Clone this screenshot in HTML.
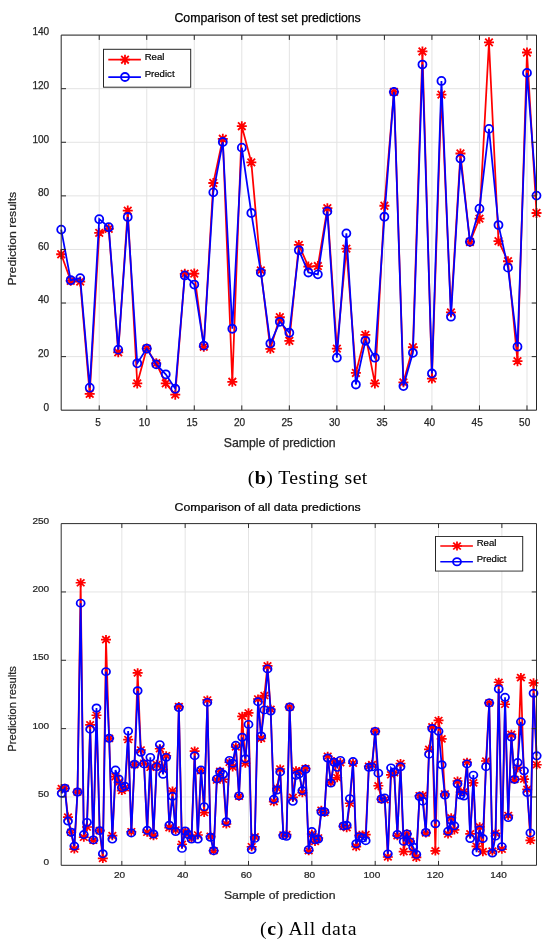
<!DOCTYPE html>
<html lang="en">
<head>
<meta charset="utf-8">
<title>Comparison of predictions</title>
<style>
html,body{margin:0;padding:0;background:#fff;}
body{width:550px;height:945px;overflow:hidden;}
svg{display:block;}
</style>
</head>
<body>
<svg width="550" height="945" viewBox="0 0 550 945">
<rect width="550" height="945" fill="#fff"/>
<g id="chart-test">
<path d="M99.22 35.1V410.2M146.75 35.1V410.2M194.28 35.1V410.2M241.81 35.1V410.2M289.34 35.1V410.2M336.87 35.1V410.2M384.4 35.1V410.2M431.93 35.1V410.2M479.46 35.1V410.2M526.99 35.1V410.2M61.2 410.2H536.5M61.2 356.61H536.5M61.2 303.03H536.5M61.2 249.44H536.5M61.2 195.86H536.5M61.2 142.27H536.5M61.2 88.69H536.5M61.2 35.1H536.5" stroke="#e3e3e3" stroke-width="1" fill="none"/>
<polyline points="61.2,254.27 70.71,280.79 80.21,281.59 89.72,393.86 99.22,232.83 108.73,228.81 118.24,352.33 127.74,210.59 137.25,383.41 146.75,348.58 156.26,363.31 165.77,383.41 175.27,394.66 184.78,273.82 194.28,273.56 203.79,346.7 213.3,183 222.8,138.79 232.31,381.8 241.81,126.2 251.32,162.37 260.83,270.34 270.33,348.84 279.84,317.23 289.34,340.81 298.85,244.89 308.36,266.59 317.86,266.05 327.37,208.18 336.87,348.58 346.38,248.64 355.89,372.96 365.39,334.91 374.9,383.41 384.4,205.77 393.91,91.9 403.42,382.34 412.92,347.24 422.43,51.44 431.93,378.58 441.44,94.58 450.95,312.41 460.45,153.52 469.96,241.94 479.46,218.63 488.97,42.33 498.48,241.14 507.98,261.23 517.49,361.17 526.99,52.52 536.5,213" fill="none" stroke="#ff0000" stroke-width="1.75" stroke-linejoin="miter"/>
<path d="M56.2 254.27H66.2M61.2 249.27V259.27M57.4 250.47L65 258.07M57.4 258.07L65 250.47M65.71 280.79H75.71M70.71 275.79V285.79M66.91 276.99L74.51 284.59M66.91 284.59L74.51 276.99M75.21 281.59H85.21M80.21 276.59V286.59M76.41 277.79L84.01 285.39M76.41 285.39L84.01 277.79M84.72 393.86H94.72M89.72 388.86V398.86M85.92 390.06L93.52 397.66M85.92 397.66L93.52 390.06M94.22 232.83H104.22M99.22 227.83V237.83M95.42 229.03L103.02 236.63M95.42 236.63L103.02 229.03M103.73 228.81H113.73M108.73 223.81V233.81M104.93 225.01L112.53 232.61M104.93 232.61L112.53 225.01M113.24 352.33H123.24M118.24 347.33V357.33M114.44 348.53L122.04 356.13M114.44 356.13L122.04 348.53M122.74 210.59H132.74M127.74 205.59V215.59M123.94 206.79L131.54 214.39M123.94 214.39L131.54 206.79M132.25 383.41H142.25M137.25 378.41V388.41M133.45 379.61L141.05 387.21M133.45 387.21L141.05 379.61M141.75 348.58H151.75M146.75 343.58V353.58M142.95 344.78L150.55 352.38M142.95 352.38L150.55 344.78M151.26 363.31H161.26M156.26 358.31V368.31M152.46 359.51L160.06 367.11M152.46 367.11L160.06 359.51M160.77 383.41H170.77M165.77 378.41V388.41M161.97 379.61L169.57 387.21M161.97 387.21L169.57 379.61M170.27 394.66H180.27M175.27 389.66V399.66M171.47 390.86L179.07 398.46M171.47 398.46L179.07 390.86M179.78 273.82H189.78M184.78 268.82V278.82M180.98 270.02L188.58 277.62M180.98 277.62L188.58 270.02M189.28 273.56H199.28M194.28 268.56V278.56M190.48 269.76L198.08 277.36M190.48 277.36L198.08 269.76M198.79 346.7H208.79M203.79 341.7V351.7M199.99 342.9L207.59 350.5M199.99 350.5L207.59 342.9M208.3 183H218.3M213.3 178V188M209.5 179.2L217.1 186.8M209.5 186.8L217.1 179.2M217.8 138.79H227.8M222.8 133.79V143.79M219 134.99L226.6 142.59M219 142.59L226.6 134.99M227.31 381.8H237.31M232.31 376.8V386.8M228.51 378L236.11 385.6M228.51 385.6L236.11 378M236.81 126.2H246.81M241.81 121.2V131.2M238.01 122.4L245.61 130M238.01 130L245.61 122.4M246.32 162.37H256.32M251.32 157.37V167.37M247.52 158.57L255.12 166.17M247.52 166.17L255.12 158.57M255.83 270.34H265.83M260.83 265.34V275.34M257.03 266.54L264.63 274.14M257.03 274.14L264.63 266.54M265.33 348.84H275.33M270.33 343.84V353.84M266.53 345.04L274.13 352.64M266.53 352.64L274.13 345.04M274.84 317.23H284.84M279.84 312.23V322.23M276.04 313.43L283.64 321.03M276.04 321.03L283.64 313.43M284.34 340.81H294.34M289.34 335.81V345.81M285.54 337.01L293.14 344.61M285.54 344.61L293.14 337.01M293.85 244.89H303.85M298.85 239.89V249.89M295.05 241.09L302.65 248.69M295.05 248.69L302.65 241.09M303.36 266.59H313.36M308.36 261.59V271.59M304.56 262.79L312.16 270.39M304.56 270.39L312.16 262.79M312.86 266.05H322.86M317.86 261.05V271.05M314.06 262.25L321.66 269.85M314.06 269.85L321.66 262.25M322.37 208.18H332.37M327.37 203.18V213.18M323.57 204.38L331.17 211.98M323.57 211.98L331.17 204.38M331.87 348.58H341.87M336.87 343.58V353.58M333.07 344.78L340.67 352.38M333.07 352.38L340.67 344.78M341.38 248.64H351.38M346.38 243.64V253.64M342.58 244.84L350.18 252.44M342.58 252.44L350.18 244.84M350.89 372.96H360.89M355.89 367.96V377.96M352.09 369.16L359.69 376.76M352.09 376.76L359.69 369.16M360.39 334.91H370.39M365.39 329.91V339.91M361.59 331.11L369.19 338.71M361.59 338.71L369.19 331.11M369.9 383.41H379.9M374.9 378.41V388.41M371.1 379.61L378.7 387.21M371.1 387.21L378.7 379.61M379.4 205.77H389.4M384.4 200.77V210.77M380.6 201.97L388.2 209.57M380.6 209.57L388.2 201.97M388.91 91.9H398.91M393.91 86.9V96.9M390.11 88.1L397.71 95.7M390.11 95.7L397.71 88.1M398.42 382.34H408.42M403.42 377.34V387.34M399.62 378.54L407.22 386.14M399.62 386.14L407.22 378.54M407.92 347.24H417.92M412.92 342.24V352.24M409.12 343.44L416.72 351.04M409.12 351.04L416.72 343.44M417.43 51.44H427.43M422.43 46.44V56.44M418.63 47.64L426.23 55.24M418.63 55.24L426.23 47.64M426.93 378.58H436.93M431.93 373.58V383.58M428.13 374.78L435.73 382.38M428.13 382.38L435.73 374.78M436.44 94.58H446.44M441.44 89.58V99.58M437.64 90.78L445.24 98.38M437.64 98.38L445.24 90.78M445.95 312.41H455.95M450.95 307.41V317.41M447.15 308.61L454.75 316.21M447.15 316.21L454.75 308.61M455.45 153.52H465.45M460.45 148.52V158.52M456.65 149.72L464.25 157.32M456.65 157.32L464.25 149.72M464.96 241.94H474.96M469.96 236.94V246.94M466.16 238.14L473.76 245.74M466.16 245.74L473.76 238.14M474.46 218.63H484.46M479.46 213.63V223.63M475.66 214.83L483.26 222.43M475.66 222.43L483.26 214.83M483.97 42.33H493.97M488.97 37.33V47.33M485.17 38.53L492.77 46.13M485.17 46.13L492.77 38.53M493.48 241.14H503.48M498.48 236.14V246.14M494.68 237.34L502.28 244.94M494.68 244.94L502.28 237.34M502.98 261.23H512.98M507.98 256.23V266.23M504.18 257.43L511.78 265.03M504.18 265.03L511.78 257.43M512.49 361.17H522.49M517.49 356.17V366.17M513.69 357.37L521.29 364.97M513.69 364.97L521.29 357.37M521.99 52.52H531.99M526.99 47.52V57.52M523.19 48.72L530.79 56.32M523.19 56.32L530.79 48.72M531.5 213H541.5M536.5 208V218M532.7 209.2L540.3 216.8M532.7 216.8L540.3 209.2" stroke="#ff0000" stroke-width="1.8" fill="none"/>
<polyline points="61.2,229.62 70.71,280.25 80.21,278.11 89.72,387.69 99.22,219.17 108.73,227.2 118.24,349.65 127.74,217.02 137.25,363.31 146.75,348.58 156.26,364.38 165.77,374.3 175.27,388.77 184.78,275.43 194.28,284.54 203.79,345.63 213.3,192.37 222.8,142 232.31,328.75 241.81,147.63 251.32,213 260.83,272.48 270.33,343.49 279.84,321.78 289.34,332.77 298.85,250.25 308.36,272.48 317.86,274.36 327.37,211.4 336.87,357.69 346.38,233.37 355.89,384.48 365.39,340.81 374.9,357.69 384.4,216.76 393.91,91.9 403.42,386.09 412.92,352.86 422.43,64.57 431.93,373.49 441.44,80.92 450.95,316.69 460.45,158.62 469.96,241.67 479.46,208.72 488.97,128.88 498.48,225.06 507.98,267.66 517.49,346.7 526.99,72.88 536.5,195.59" fill="none" stroke="#0000ff" stroke-width="1.75" stroke-linejoin="miter"/>
<g fill="none" stroke="#0000ff" stroke-width="1.8"><circle cx="61.2" cy="229.62" r="4.0"/><circle cx="70.71" cy="280.25" r="4.0"/><circle cx="80.21" cy="278.11" r="4.0"/><circle cx="89.72" cy="387.69" r="4.0"/><circle cx="99.22" cy="219.17" r="4.0"/><circle cx="108.73" cy="227.2" r="4.0"/><circle cx="118.24" cy="349.65" r="4.0"/><circle cx="127.74" cy="217.02" r="4.0"/><circle cx="137.25" cy="363.31" r="4.0"/><circle cx="146.75" cy="348.58" r="4.0"/><circle cx="156.26" cy="364.38" r="4.0"/><circle cx="165.77" cy="374.3" r="4.0"/><circle cx="175.27" cy="388.77" r="4.0"/><circle cx="184.78" cy="275.43" r="4.0"/><circle cx="194.28" cy="284.54" r="4.0"/><circle cx="203.79" cy="345.63" r="4.0"/><circle cx="213.3" cy="192.37" r="4.0"/><circle cx="222.8" cy="142" r="4.0"/><circle cx="232.31" cy="328.75" r="4.0"/><circle cx="241.81" cy="147.63" r="4.0"/><circle cx="251.32" cy="213" r="4.0"/><circle cx="260.83" cy="272.48" r="4.0"/><circle cx="270.33" cy="343.49" r="4.0"/><circle cx="279.84" cy="321.78" r="4.0"/><circle cx="289.34" cy="332.77" r="4.0"/><circle cx="298.85" cy="250.25" r="4.0"/><circle cx="308.36" cy="272.48" r="4.0"/><circle cx="317.86" cy="274.36" r="4.0"/><circle cx="327.37" cy="211.4" r="4.0"/><circle cx="336.87" cy="357.69" r="4.0"/><circle cx="346.38" cy="233.37" r="4.0"/><circle cx="355.89" cy="384.48" r="4.0"/><circle cx="365.39" cy="340.81" r="4.0"/><circle cx="374.9" cy="357.69" r="4.0"/><circle cx="384.4" cy="216.76" r="4.0"/><circle cx="393.91" cy="91.9" r="4.0"/><circle cx="403.42" cy="386.09" r="4.0"/><circle cx="412.92" cy="352.86" r="4.0"/><circle cx="422.43" cy="64.57" r="4.0"/><circle cx="431.93" cy="373.49" r="4.0"/><circle cx="441.44" cy="80.92" r="4.0"/><circle cx="450.95" cy="316.69" r="4.0"/><circle cx="460.45" cy="158.62" r="4.0"/><circle cx="469.96" cy="241.67" r="4.0"/><circle cx="479.46" cy="208.72" r="4.0"/><circle cx="488.97" cy="128.88" r="4.0"/><circle cx="498.48" cy="225.06" r="4.0"/><circle cx="507.98" cy="267.66" r="4.0"/><circle cx="517.49" cy="346.7" r="4.0"/><circle cx="526.99" cy="72.88" r="4.0"/><circle cx="536.5" cy="195.59" r="4.0"/></g>
<path d="M61.2 35.1H536.5V410.2H61.2ZM99.22 410.2v-4.8M99.22 35.1v4.8M146.75 410.2v-4.8M146.75 35.1v4.8M194.28 410.2v-4.8M194.28 35.1v4.8M241.81 410.2v-4.8M241.81 35.1v4.8M289.34 410.2v-4.8M289.34 35.1v4.8M336.87 410.2v-4.8M336.87 35.1v4.8M384.4 410.2v-4.8M384.4 35.1v4.8M431.93 410.2v-4.8M431.93 35.1v4.8M479.46 410.2v-4.8M479.46 35.1v4.8M526.99 410.2v-4.8M526.99 35.1v4.8M61.2 356.61h4.8M536.5 356.61h-4.8M61.2 303.03h4.8M536.5 303.03h-4.8M61.2 249.44h4.8M536.5 249.44h-4.8M61.2 195.86h4.8M536.5 195.86h-4.8M61.2 142.27h4.8M536.5 142.27h-4.8M61.2 88.69h4.8M536.5 88.69h-4.8" stroke="#262626" stroke-width="1" fill="none"/>
<g font-family="'Liberation Sans', Arial, Helvetica, sans-serif" font-size="10.05" fill="#262626" stroke="#262626" stroke-width="0.25">
<text x="97.97" y="425.6" text-anchor="middle">5</text>
<text x="144.45" y="425.6" text-anchor="middle">10</text>
<text x="191.98" y="425.6" text-anchor="middle">15</text>
<text x="239.51" y="425.6" text-anchor="middle">20</text>
<text x="287.04" y="425.6" text-anchor="middle">25</text>
<text x="334.57" y="425.6" text-anchor="middle">30</text>
<text x="382.1" y="425.6" text-anchor="middle">35</text>
<text x="429.63" y="425.6" text-anchor="middle">40</text>
<text x="477.16" y="425.6" text-anchor="middle">45</text>
<text x="524.69" y="425.6" text-anchor="middle">50</text>
<text x="49.2" y="410.5" text-anchor="end">0</text>
<text x="49.2" y="356.91" text-anchor="end">20</text>
<text x="49.2" y="303.33" text-anchor="end">40</text>
<text x="49.2" y="249.74" text-anchor="end">60</text>
<text x="49.2" y="196.16" text-anchor="end">80</text>
<text x="49.2" y="142.57" text-anchor="end">100</text>
<text x="49.2" y="88.99" text-anchor="end">120</text>
<text x="49.2" y="35.4" text-anchor="end">140</text>
</g>
<text font-family="'Liberation Sans', Arial, Helvetica, sans-serif" font-size="12.33" fill="#000" stroke="#000" stroke-width="0.25" x="267.6" y="21.6" text-anchor="middle">Comparison of test set predictions</text>
<text font-family="'Liberation Sans', Arial, Helvetica, sans-serif" font-size="12.25" fill="#262626" stroke="#262626" stroke-width="0.25" x="279.7" y="447.4" text-anchor="middle">Sample of prediction</text>
<text font-family="'Liberation Sans', Arial, Helvetica, sans-serif" font-size="12.25" fill="#262626" stroke="#262626" stroke-width="0.25" transform="translate(16.0,238.7) rotate(-90) scale(1,0.89)" text-anchor="middle">Prediction results</text>
<rect x="103.5" y="49.3" width="87.2" height="37.9" fill="#fff" stroke="#262626" stroke-width="1"/>
<path d="M108.3 59.7H140.9" stroke="#ff0000" stroke-width="1.75"/>
<path d="M120 59.7H130M125 54.7V64.7M121.2 55.9L128.8 63.5M121.2 63.5L128.8 55.9" stroke="#ff0000" stroke-width="1.8" fill="none"/>
<path d="M108.3 77H140.9" stroke="#0000ff" stroke-width="1.75"/>
<circle cx="125" cy="77" r="4.0" fill="none" stroke="#0000ff" stroke-width="1.8"/>
<text font-family="'Liberation Sans', Arial, Helvetica, sans-serif" font-size="9.6" fill="#000" stroke="#000" stroke-width="0.2" x="144.7" y="59.8">Real</text>
<text font-family="'Liberation Sans', Arial, Helvetica, sans-serif" font-size="9.6" fill="#000" stroke="#000" stroke-width="0.2" x="144.7" y="77">Predict</text>
</g>
<text font-family="'Liberation Serif', 'Times New Roman', serif" font-size="19.8" fill="#000" x="247.8" y="484.1" letter-spacing="0.42">(<tspan font-weight="bold">b</tspan>) Testing set</text>
<g id="chart-all" transform="translate(0,491.63) scale(1,0.9110)">
<path d="M121.83 35.1V410.2M185.17 35.1V410.2M248.51 35.1V410.2M311.85 35.1V410.2M375.19 35.1V410.2M438.53 35.1V410.2M501.87 35.1V410.2M61.2 410.2H536.5M61.2 335.18H536.5M61.2 260.16H536.5M61.2 185.14H536.5M61.2 110.12H536.5M61.2 35.1H536.5" stroke="#e3e3e3" stroke-width="1" fill="none"/>
<polyline points="61.66,326.03 64.82,325.58 67.99,357.24 71.16,373.89 74.33,392.35 77.49,329.78 80.66,100.07 83.83,379.44 86.99,368.19 90.16,255.96 93.33,382.74 96.49,245.46 99.66,372.09 102.83,402.55 106,162.48 109.16,270.81 112.33,377.64 115.5,312.82 118.66,319.13 121.83,328.13 125,324.98 128.16,272.16 131.33,373.29 134.5,299.62 137.66,198.94 140.83,283.57 144,298.12 147.17,373.89 150.33,302.62 153.5,377.64 156.67,299.62 159.83,282.22 163,305.17 166.17,289.87 169.34,368.79 172.5,328.58 175.67,371.34 178.84,236 182,387.09 185.17,373.14 188.34,375.84 191.5,380.64 194.67,284.77 197.84,376.89 201,306.37 204.17,352.28 207.34,228.65 210.51,378.39 213.67,394.15 216.84,316.58 220.01,306.97 223.17,315.67 226.34,364.89 229.51,297.07 232.68,302.17 235.84,280.27 239.01,334.43 242.18,246.66 245.34,298.12 248.51,242.91 251.68,389.79 254.84,378.99 258.01,227.6 261.18,270.81 264.34,223.85 267.51,191.29 270.68,239 273.85,340.28 277.01,325.58 280.18,304.42 283.35,376.89 286.51,376.44 289.68,236.45 292.85,335.63 296.01,306.37 299.18,307.27 302.35,330.53 305.52,303.97 308.68,394.15 311.85,375.84 315.02,383.94 318.18,380.19 321.35,349.73 324.52,352.28 327.69,290.47 330.85,319.13 334.02,296.32 337.19,314.02 340.35,297.52 343.52,367.44 346.69,368.79 349.85,342.08 353.02,298.12 356.19,389.64 359.36,377.19 362.52,376.89 365.69,376.44 368.86,301.42 372.02,299.62 375.19,263.16 378.36,322.88 381.52,337.73 384.69,338.18 387.86,401.05 391.02,310.87 394.19,308.62 397.36,377.79 400.53,298.42 403.69,395.2 406.86,375.69 410.03,383.94 413.19,395.2 416.36,401.5 419.53,333.83 422.69,333.68 425.86,374.64 429.03,282.97 432.2,258.21 435.36,394.3 438.53,251.16 441.7,271.41 444.86,331.88 448.03,375.84 451.2,358.14 454.37,371.34 457.53,317.63 460.7,329.78 463.87,329.48 467.03,297.07 470.2,375.69 473.37,319.73 476.53,389.34 479.7,368.04 482.87,395.2 486.03,295.72 489.2,231.95 492.37,394.6 495.54,374.94 498.7,209.3 501.87,392.5 505.04,233.45 508.2,355.44 511.37,266.46 514.54,315.97 517.7,302.92 520.87,204.2 524.04,315.52 527.21,326.78 530.37,382.74 533.54,209.9 536.71,299.77" fill="none" stroke="#ff0000" stroke-width="1.75" stroke-linejoin="miter"/>
<path d="M56.66 326.03H66.66M61.66 321.03V331.03M57.86 322.23L65.46 329.83M57.86 329.83L65.46 322.23M59.82 325.58H69.82M64.82 320.58V330.58M61.02 321.78L68.62 329.38M61.02 329.38L68.62 321.78M62.99 357.24H72.99M67.99 352.24V362.24M64.19 353.44L71.79 361.04M64.19 361.04L71.79 353.44M66.16 373.89H76.16M71.16 368.89V378.89M67.36 370.09L74.96 377.69M67.36 377.69L74.96 370.09M69.33 392.35H79.33M74.33 387.35V397.35M70.53 388.55L78.12 396.15M70.53 396.15L78.12 388.55M72.49 329.78H82.49M77.49 324.78V334.78M73.69 325.98L81.29 333.58M73.69 333.58L81.29 325.98M75.66 100.07H85.66M80.66 95.07V105.07M76.86 96.27L84.46 103.87M76.86 103.87L84.46 96.27M78.83 379.44H88.83M83.83 374.44V384.44M80.03 375.64L87.63 383.24M80.03 383.24L87.63 375.64M81.99 368.19H91.99M86.99 363.19V373.19M83.19 364.39L90.79 371.99M83.19 371.99L90.79 364.39M85.16 255.96H95.16M90.16 250.96V260.96M86.36 252.16L93.96 259.76M86.36 259.76L93.96 252.16M88.33 382.74H98.33M93.33 377.74V387.74M89.53 378.94L97.13 386.54M89.53 386.54L97.13 378.94M91.49 245.46H101.49M96.49 240.46V250.46M92.69 241.66L100.29 249.26M92.69 249.26L100.29 241.66M94.66 372.09H104.66M99.66 367.09V377.09M95.86 368.29L103.46 375.89M95.86 375.89L103.46 368.29M97.83 402.55H107.83M102.83 397.55V407.55M99.03 398.75L106.63 406.35M99.03 406.35L106.63 398.75M101 162.48H111M106 157.48V167.48M102.2 158.68L109.8 166.28M102.2 166.28L109.8 158.68M104.16 270.81H114.16M109.16 265.81V275.81M105.36 267.01L112.96 274.61M105.36 274.61L112.96 267.01M107.33 377.64H117.33M112.33 372.64V382.64M108.53 373.84L116.13 381.44M108.53 381.44L116.13 373.84M110.5 312.82H120.5M115.5 307.82V317.82M111.7 309.02L119.3 316.62M111.7 316.62L119.3 309.02M113.66 319.13H123.66M118.66 314.13V324.13M114.86 315.33L122.46 322.93M114.86 322.93L122.46 315.33M116.83 328.13H126.83M121.83 323.13V333.13M118.03 324.33L125.63 331.93M118.03 331.93L125.63 324.33M120 324.98H130M125 319.98V329.98M121.2 321.18L128.8 328.78M121.2 328.78L128.8 321.18M123.16 272.16H133.16M128.16 267.16V277.16M124.36 268.36L131.96 275.96M124.36 275.96L131.96 268.36M126.33 373.29H136.33M131.33 368.29V378.29M127.53 369.49L135.13 377.09M127.53 377.09L135.13 369.49M129.5 299.62H139.5M134.5 294.62V304.62M130.7 295.82L138.3 303.42M130.7 303.42L138.3 295.82M132.66 198.94H142.66M137.66 193.94V203.94M133.86 195.14L141.47 202.74M133.86 202.74L141.47 195.14M135.83 283.57H145.83M140.83 278.57V288.57M137.03 279.77L144.63 287.37M137.03 287.37L144.63 279.77M139 298.12H149M144 293.12V303.12M140.2 294.32L147.8 301.92M140.2 301.92L147.8 294.32M142.17 373.89H152.17M147.17 368.89V378.89M143.37 370.09L150.97 377.69M143.37 377.69L150.97 370.09M145.33 302.62H155.33M150.33 297.62V307.62M146.53 298.82L154.13 306.42M146.53 306.42L154.13 298.82M148.5 377.64H158.5M153.5 372.64V382.64M149.7 373.84L157.3 381.44M149.7 381.44L157.3 373.84M151.67 299.62H161.67M156.67 294.62V304.62M152.87 295.82L160.47 303.42M152.87 303.42L160.47 295.82M154.83 282.22H164.83M159.83 277.22V287.22M156.03 278.42L163.63 286.02M156.03 286.02L163.63 278.42M158 305.17H168M163 300.17V310.17M159.2 301.37L166.8 308.97M159.2 308.97L166.8 301.37M161.17 289.87H171.17M166.17 284.87V294.87M162.37 286.07L169.97 293.67M162.37 293.67L169.97 286.07M164.34 368.79H174.34M169.34 363.79V373.79M165.53 364.99L173.14 372.59M165.53 372.59L173.14 364.99M167.5 328.58H177.5M172.5 323.58V333.58M168.7 324.78L176.3 332.38M168.7 332.38L176.3 324.78M170.67 371.34H180.67M175.67 366.34V376.34M171.87 367.54L179.47 375.14M171.87 375.14L179.47 367.54M173.84 236H183.84M178.84 231V241M175.04 232.2L182.64 239.8M175.04 239.8L182.64 232.2M177 387.09H187M182 382.09V392.09M178.2 383.29L185.8 390.89M178.2 390.89L185.8 383.29M180.17 373.14H190.17M185.17 368.14V378.14M181.37 369.34L188.97 376.94M181.37 376.94L188.97 369.34M183.34 375.84H193.34M188.34 370.84V380.84M184.54 372.04L192.14 379.64M184.54 379.64L192.14 372.04M186.5 380.64H196.5M191.5 375.64V385.64M187.7 376.84L195.3 384.44M187.7 384.44L195.3 376.84M189.67 284.77H199.67M194.67 279.77V289.77M190.87 280.97L198.47 288.57M190.87 288.57L198.47 280.97M192.84 376.89H202.84M197.84 371.89V381.89M194.04 373.09L201.64 380.69M194.04 380.69L201.64 373.09M196 306.37H206M201 301.37V311.37M197.2 302.57L204.81 310.17M197.2 310.17L204.81 302.57M199.17 352.28H209.17M204.17 347.28V357.28M200.37 348.48L207.97 356.08M200.37 356.08L207.97 348.48M202.34 228.65H212.34M207.34 223.65V233.65M203.54 224.85L211.14 232.45M203.54 232.45L211.14 224.85M205.51 378.39H215.51M210.51 373.39V383.39M206.71 374.59L214.31 382.19M206.71 382.19L214.31 374.59M208.67 394.15H218.67M213.67 389.15V399.15M209.87 390.35L217.47 397.95M209.87 397.95L217.47 390.35M211.84 316.58H221.84M216.84 311.58V321.58M213.04 312.78L220.64 320.38M213.04 320.38L220.64 312.78M215.01 306.97H225.01M220.01 301.97V311.97M216.21 303.17L223.81 310.77M216.21 310.77L223.81 303.17M218.17 315.67H228.17M223.17 310.67V320.67M219.37 311.87L226.97 319.47M219.37 319.47L226.97 311.87M221.34 364.89H231.34M226.34 359.89V369.89M222.54 361.09L230.14 368.69M222.54 368.69L230.14 361.09M224.51 297.07H234.51M229.51 292.07V302.07M225.71 293.27L233.31 300.87M225.71 300.87L233.31 293.27M227.68 302.17H237.68M232.68 297.17V307.17M228.88 298.37L236.48 305.97M228.88 305.97L236.48 298.37M230.84 280.27H240.84M235.84 275.27V285.27M232.04 276.47L239.64 284.07M232.04 284.07L239.64 276.47M234.01 334.43H244.01M239.01 329.43V339.43M235.21 330.63L242.81 338.23M235.21 338.23L242.81 330.63M237.18 246.66H247.18M242.18 241.66V251.66M238.38 242.86L245.98 250.46M238.38 250.46L245.98 242.86M240.34 298.12H250.34M245.34 293.12V303.12M241.54 294.32L249.14 301.92M241.54 301.92L249.14 294.32M243.51 242.91H253.51M248.51 237.91V247.91M244.71 239.11L252.31 246.71M244.71 246.71L252.31 239.11M246.68 389.79H256.68M251.68 384.79V394.79M247.88 385.99L255.48 393.59M247.88 393.59L255.48 385.99M249.84 378.99H259.84M254.84 373.99V383.99M251.04 375.19L258.64 382.79M251.04 382.79L258.64 375.19M253.01 227.6H263.01M258.01 222.6V232.6M254.21 223.8L261.81 231.4M254.21 231.4L261.81 223.8M256.18 270.81H266.18M261.18 265.81V275.81M257.38 267.01L264.98 274.61M257.38 274.61L264.98 267.01M259.34 223.85H269.34M264.34 218.85V228.85M260.54 220.05L268.14 227.65M260.54 227.65L268.14 220.05M262.51 191.29H272.51M267.51 186.29V196.29M263.71 187.49L271.31 195.09M263.71 195.09L271.31 187.49M265.68 239H275.68M270.68 234V244M266.88 235.2L274.48 242.8M266.88 242.8L274.48 235.2M268.85 340.28H278.85M273.85 335.28V345.28M270.05 336.48L277.65 344.08M270.05 344.08L277.65 336.48M272.01 325.58H282.01M277.01 320.58V330.58M273.21 321.78L280.81 329.38M273.21 329.38L280.81 321.78M275.18 304.42H285.18M280.18 299.42V309.42M276.38 300.62L283.98 308.22M276.38 308.22L283.98 300.62M278.35 376.89H288.35M283.35 371.89V381.89M279.55 373.09L287.15 380.69M279.55 380.69L287.15 373.09M281.51 376.44H291.51M286.51 371.44V381.44M282.71 372.64L290.31 380.24M282.71 380.24L290.31 372.64M284.68 236.45H294.68M289.68 231.45V241.45M285.88 232.65L293.48 240.25M285.88 240.25L293.48 232.65M287.85 335.63H297.85M292.85 330.63V340.63M289.05 331.83L296.65 339.43M289.05 339.43L296.65 331.83M291.01 306.37H301.01M296.01 301.37V311.37M292.21 302.57L299.81 310.17M292.21 310.17L299.81 302.57M294.18 307.27H304.18M299.18 302.27V312.27M295.38 303.47L302.98 311.07M295.38 311.07L302.98 303.47M297.35 330.53H307.35M302.35 325.53V335.53M298.55 326.73L306.15 334.33M298.55 334.33L306.15 326.73M300.52 303.97H310.52M305.52 298.97V308.97M301.72 300.17L309.32 307.77M301.72 307.77L309.32 300.17M303.68 394.15H313.68M308.68 389.15V399.15M304.88 390.35L312.48 397.95M304.88 397.95L312.48 390.35M306.85 375.84H316.85M311.85 370.84V380.84M308.05 372.04L315.65 379.64M308.05 379.64L315.65 372.04M310.02 383.94H320.02M315.02 378.94V388.94M311.22 380.14L318.82 387.74M311.22 387.74L318.82 380.14M313.18 380.19H323.18M318.18 375.19V385.19M314.38 376.39L321.98 383.99M314.38 383.99L321.98 376.39M316.35 349.73H326.35M321.35 344.73V354.73M317.55 345.93L325.15 353.53M317.55 353.53L325.15 345.93M319.52 352.28H329.52M324.52 347.28V357.28M320.72 348.48L328.32 356.08M320.72 356.08L328.32 348.48M322.69 290.47H332.69M327.69 285.47V295.47M323.88 286.67L331.49 294.27M323.88 294.27L331.49 286.67M325.85 319.13H335.85M330.85 314.13V324.13M327.05 315.33L334.65 322.93M327.05 322.93L334.65 315.33M329.02 296.32H339.02M334.02 291.32V301.32M330.22 292.52L337.82 300.12M330.22 300.12L337.82 292.52M332.19 314.02H342.19M337.19 309.02V319.02M333.39 310.22L340.99 317.82M333.39 317.82L340.99 310.22M335.35 297.52H345.35M340.35 292.52V302.52M336.55 293.72L344.15 301.32M336.55 301.32L344.15 293.72M338.52 367.44H348.52M343.52 362.44V372.44M339.72 363.64L347.32 371.24M339.72 371.24L347.32 363.64M341.69 368.79H351.69M346.69 363.79V373.79M342.89 364.99L350.49 372.59M342.89 372.59L350.49 364.99M344.85 342.08H354.85M349.85 337.08V347.08M346.05 338.28L353.65 345.88M346.05 345.88L353.65 338.28M348.02 298.12H358.02M353.02 293.12V303.12M349.22 294.32L356.82 301.92M349.22 301.92L356.82 294.32M351.19 389.64H361.19M356.19 384.64V394.64M352.39 385.84L359.99 393.44M352.39 393.44L359.99 385.84M354.36 377.19H364.36M359.36 372.19V382.19M355.56 373.39L363.16 380.99M355.56 380.99L363.16 373.39M357.52 376.89H367.52M362.52 371.89V381.89M358.72 373.09L366.32 380.69M358.72 380.69L366.32 373.09M360.69 376.44H370.69M365.69 371.44V381.44M361.89 372.64L369.49 380.24M361.89 380.24L369.49 372.64M363.86 301.42H373.86M368.86 296.42V306.42M365.06 297.62L372.66 305.22M365.06 305.22L372.66 297.62M367.02 299.62H377.02M372.02 294.62V304.62M368.22 295.82L375.82 303.42M368.22 303.42L375.82 295.82M370.19 263.16H380.19M375.19 258.16V268.16M371.39 259.36L378.99 266.96M371.39 266.96L378.99 259.36M373.36 322.88H383.36M378.36 317.88V327.88M374.56 319.08L382.16 326.68M374.56 326.68L382.16 319.08M376.52 337.73H386.52M381.52 332.73V342.73M377.72 333.93L385.32 341.53M377.72 341.53L385.32 333.93M379.69 338.18H389.69M384.69 333.18V343.18M380.89 334.38L388.49 341.98M380.89 341.98L388.49 334.38M382.86 401.05H392.86M387.86 396.05V406.05M384.06 397.25L391.66 404.85M384.06 404.85L391.66 397.25M386.02 310.87H396.02M391.02 305.87V315.87M387.22 307.07L394.82 314.67M387.22 314.67L394.82 307.07M389.19 308.62H399.19M394.19 303.62V313.62M390.39 304.82L397.99 312.42M390.39 312.42L397.99 304.82M392.36 377.79H402.36M397.36 372.79V382.79M393.56 373.99L401.16 381.59M393.56 381.59L401.16 373.99M395.53 298.42H405.53M400.53 293.42V303.42M396.73 294.62L404.33 302.22M396.73 302.22L404.33 294.62M398.69 395.2H408.69M403.69 390.2V400.2M399.89 391.4L407.49 399M399.89 399L407.49 391.4M401.86 375.69H411.86M406.86 370.69V380.69M403.06 371.89L410.66 379.49M403.06 379.49L410.66 371.89M405.03 383.94H415.03M410.03 378.94V388.94M406.23 380.14L413.83 387.74M406.23 387.74L413.83 380.14M408.19 395.2H418.19M413.19 390.2V400.2M409.39 391.4L416.99 399M409.39 399L416.99 391.4M411.36 401.5H421.36M416.36 396.5V406.5M412.56 397.7L420.16 405.3M412.56 405.3L420.16 397.7M414.53 333.83H424.53M419.53 328.83V338.83M415.73 330.03L423.33 337.63M415.73 337.63L423.33 330.03M417.69 333.68H427.69M422.69 328.68V338.68M418.89 329.88L426.5 337.48M418.89 337.48L426.5 329.88M420.86 374.64H430.86M425.86 369.64V379.64M422.06 370.84L429.66 378.44M422.06 378.44L429.66 370.84M424.03 282.97H434.03M429.03 277.97V287.97M425.23 279.17L432.83 286.77M425.23 286.77L432.83 279.17M427.2 258.21H437.2M432.2 253.21V263.21M428.4 254.41L436 262.01M428.4 262.01L436 254.41M430.36 394.3H440.36M435.36 389.3V399.3M431.56 390.5L439.16 398.1M431.56 398.1L439.16 390.5M433.53 251.16H443.53M438.53 246.16V256.16M434.73 247.36L442.33 254.96M434.73 254.96L442.33 247.36M436.7 271.41H446.7M441.7 266.41V276.41M437.9 267.61L445.5 275.21M437.9 275.21L445.5 267.61M439.86 331.88H449.86M444.86 326.88V336.88M441.06 328.08L448.66 335.68M441.06 335.68L448.66 328.08M443.03 375.84H453.03M448.03 370.84V380.84M444.23 372.04L451.83 379.64M444.23 379.64L451.83 372.04M446.2 358.14H456.2M451.2 353.14V363.14M447.4 354.34L455 361.94M447.4 361.94L455 354.34M449.37 371.34H459.37M454.37 366.34V376.34M450.56 367.54L458.17 375.14M450.56 375.14L458.17 367.54M452.53 317.63H462.53M457.53 312.63V322.63M453.73 313.83L461.33 321.43M453.73 321.43L461.33 313.83M455.7 329.78H465.7M460.7 324.78V334.78M456.9 325.98L464.5 333.58M456.9 333.58L464.5 325.98M458.87 329.48H468.87M463.87 324.48V334.48M460.07 325.68L467.67 333.28M460.07 333.28L467.67 325.68M462.03 297.07H472.03M467.03 292.07V302.07M463.23 293.27L470.83 300.87M463.23 300.87L470.83 293.27M465.2 375.69H475.2M470.2 370.69V380.69M466.4 371.89L474 379.49M466.4 379.49L474 371.89M468.37 319.73H478.37M473.37 314.73V324.73M469.57 315.93L477.17 323.53M469.57 323.53L477.17 315.93M471.53 389.34H481.53M476.53 384.34V394.34M472.73 385.54L480.33 393.14M472.73 393.14L480.33 385.54M474.7 368.04H484.7M479.7 363.04V373.04M475.9 364.24L483.5 371.84M475.9 371.84L483.5 364.24M477.87 395.2H487.87M482.87 390.2V400.2M479.07 391.4L486.67 399M479.07 399L486.67 391.4M481.03 295.72H491.03M486.03 290.72V300.72M482.23 291.92L489.83 299.52M482.23 299.52L489.83 291.92M484.2 231.95H494.2M489.2 226.95V236.95M485.4 228.15L493 235.75M485.4 235.75L493 228.15M487.37 394.6H497.37M492.37 389.6V399.6M488.57 390.8L496.17 398.4M488.57 398.4L496.17 390.8M490.54 374.94H500.54M495.54 369.94V379.94M491.74 371.14L499.34 378.74M491.74 378.74L499.34 371.14M493.7 209.3H503.7M498.7 204.3V214.3M494.9 205.5L502.5 213.1M494.9 213.1L502.5 205.5M496.87 392.5H506.87M501.87 387.5V397.5M498.07 388.7L505.67 396.3M498.07 396.3L505.67 388.7M500.04 233.45H510.04M505.04 228.45V238.45M501.24 229.65L508.84 237.25M501.24 237.25L508.84 229.65M503.2 355.44H513.2M508.2 350.44V360.44M504.4 351.64L512 359.24M504.4 359.24L512 351.64M506.37 266.46H516.37M511.37 261.46V271.46M507.57 262.66L515.17 270.26M507.57 270.26L515.17 262.66M509.54 315.97H519.54M514.54 310.97V320.97M510.74 312.17L518.34 319.77M510.74 319.77L518.34 312.17M512.7 302.92H522.7M517.7 297.92V307.92M513.9 299.12L521.5 306.72M513.9 306.72L521.5 299.12M515.87 204.2H525.87M520.87 199.2V209.2M517.07 200.4L524.67 208M517.07 208L524.67 200.4M519.04 315.52H529.04M524.04 310.52V320.52M520.24 311.72L527.84 319.32M520.24 319.32L527.84 311.72M522.21 326.78H532.21M527.21 321.78V331.78M523.41 322.98L531.01 330.58M523.41 330.58L531.01 322.98M525.37 382.74H535.37M530.37 377.74V387.74M526.57 378.94L534.17 386.54M526.57 386.54L534.17 378.94M528.54 209.9H538.54M533.54 204.9V214.9M529.74 206.1L537.34 213.7M529.74 213.7L537.34 206.1M531.71 299.77H541.71M536.71 294.77V304.77M532.91 295.97L540.51 303.57M532.91 303.57L540.51 295.97" stroke="#ff0000" stroke-width="1.8" fill="none"/>
<polyline points="61.66,331.13 64.82,325.58 67.99,361.59 71.16,373.89 74.33,389.04 77.49,329.78 80.66,122.42 83.83,376.44 86.99,363.09 90.16,260.76 93.33,382.29 96.49,237.5 99.66,372.09 102.83,397.45 106,197.59 109.16,270.81 112.33,381.39 115.5,305.62 118.66,315.37 121.83,324.98 125,323.48 128.16,262.86 131.33,374.64 134.5,299.32 137.66,218.6 140.83,286.12 144,298.87 147.17,371.79 150.33,291.67 153.5,375.84 156.67,301.87 159.83,277.71 163,310.27 166.17,291.67 169.34,366.24 172.5,334.43 175.67,373.14 178.84,237.05 182,391.6 185.17,372.54 188.34,376.44 191.5,381.39 194.67,289.87 197.84,381.39 201,305.62 204.17,345.83 207.34,231.35 210.51,379.44 213.67,394.15 216.84,315.37 220.01,307.72 223.17,310.27 226.34,362.34 229.51,294.97 232.68,298.12 235.84,278.46 239.01,333.98 242.18,269.61 245.34,293.17 248.51,255.51 251.68,392.95 254.84,380.64 258.01,230.6 261.18,268.26 264.34,239.6 267.51,194.59 270.68,240.8 273.85,337.73 277.01,327.53 280.18,307.72 283.35,377.64 286.51,378.39 289.68,236.45 292.85,339.98 296.01,311.47 299.18,309.82 302.35,328.13 305.52,304.72 308.68,392.95 311.85,373.14 315.02,382.29 318.18,381.39 321.35,351.38 324.52,351.38 327.69,292.42 330.85,319.88 334.02,297.07 337.19,302.62 340.35,294.97 343.52,366.99 346.69,366.24 349.85,336.98 353.02,296.32 356.19,386.49 359.36,378.69 362.52,380.19 365.69,383.19 368.86,302.62 372.02,302.17 375.19,263.16 378.36,309.07 381.52,337.43 384.69,336.23 387.86,397.6 391.02,303.22 394.19,307.72 397.36,376.29 400.53,302.02 403.69,383.94 406.86,375.69 410.03,384.54 413.19,390.09 416.36,398.2 419.53,334.73 422.69,339.83 425.86,374.04 429.03,288.22 432.2,260.01 435.36,364.59 438.53,263.16 441.7,299.77 444.86,333.08 448.03,372.84 451.2,360.69 454.37,366.84 457.53,320.63 460.7,333.08 463.87,334.13 467.03,298.87 470.2,380.79 473.37,311.17 476.53,395.8 479.7,371.34 482.87,380.79 486.03,301.87 489.2,231.95 492.37,396.7 495.54,378.09 498.7,216.65 501.87,389.64 505.04,225.8 508.2,357.84 511.37,269.31 514.54,315.82 517.7,297.37 520.87,252.66 524.04,306.52 527.21,330.38 530.37,374.64 533.54,221.3 536.71,290.02" fill="none" stroke="#0000ff" stroke-width="1.75" stroke-linejoin="miter"/>
<g fill="none" stroke="#0000ff" stroke-width="1.8"><circle cx="61.66" cy="331.13" r="4.0"/><circle cx="64.82" cy="325.58" r="4.0"/><circle cx="67.99" cy="361.59" r="4.0"/><circle cx="71.16" cy="373.89" r="4.0"/><circle cx="74.33" cy="389.04" r="4.0"/><circle cx="77.49" cy="329.78" r="4.0"/><circle cx="80.66" cy="122.42" r="4.0"/><circle cx="83.83" cy="376.44" r="4.0"/><circle cx="86.99" cy="363.09" r="4.0"/><circle cx="90.16" cy="260.76" r="4.0"/><circle cx="93.33" cy="382.29" r="4.0"/><circle cx="96.49" cy="237.5" r="4.0"/><circle cx="99.66" cy="372.09" r="4.0"/><circle cx="102.83" cy="397.45" r="4.0"/><circle cx="106" cy="197.59" r="4.0"/><circle cx="109.16" cy="270.81" r="4.0"/><circle cx="112.33" cy="381.39" r="4.0"/><circle cx="115.5" cy="305.62" r="4.0"/><circle cx="118.66" cy="315.37" r="4.0"/><circle cx="121.83" cy="324.98" r="4.0"/><circle cx="125" cy="323.48" r="4.0"/><circle cx="128.16" cy="262.86" r="4.0"/><circle cx="131.33" cy="374.64" r="4.0"/><circle cx="134.5" cy="299.32" r="4.0"/><circle cx="137.66" cy="218.6" r="4.0"/><circle cx="140.83" cy="286.12" r="4.0"/><circle cx="144" cy="298.87" r="4.0"/><circle cx="147.17" cy="371.79" r="4.0"/><circle cx="150.33" cy="291.67" r="4.0"/><circle cx="153.5" cy="375.84" r="4.0"/><circle cx="156.67" cy="301.87" r="4.0"/><circle cx="159.83" cy="277.71" r="4.0"/><circle cx="163" cy="310.27" r="4.0"/><circle cx="166.17" cy="291.67" r="4.0"/><circle cx="169.34" cy="366.24" r="4.0"/><circle cx="172.5" cy="334.43" r="4.0"/><circle cx="175.67" cy="373.14" r="4.0"/><circle cx="178.84" cy="237.05" r="4.0"/><circle cx="182" cy="391.6" r="4.0"/><circle cx="185.17" cy="372.54" r="4.0"/><circle cx="188.34" cy="376.44" r="4.0"/><circle cx="191.5" cy="381.39" r="4.0"/><circle cx="194.67" cy="289.87" r="4.0"/><circle cx="197.84" cy="381.39" r="4.0"/><circle cx="201" cy="305.62" r="4.0"/><circle cx="204.17" cy="345.83" r="4.0"/><circle cx="207.34" cy="231.35" r="4.0"/><circle cx="210.51" cy="379.44" r="4.0"/><circle cx="213.67" cy="394.15" r="4.0"/><circle cx="216.84" cy="315.37" r="4.0"/><circle cx="220.01" cy="307.72" r="4.0"/><circle cx="223.17" cy="310.27" r="4.0"/><circle cx="226.34" cy="362.34" r="4.0"/><circle cx="229.51" cy="294.97" r="4.0"/><circle cx="232.68" cy="298.12" r="4.0"/><circle cx="235.84" cy="278.46" r="4.0"/><circle cx="239.01" cy="333.98" r="4.0"/><circle cx="242.18" cy="269.61" r="4.0"/><circle cx="245.34" cy="293.17" r="4.0"/><circle cx="248.51" cy="255.51" r="4.0"/><circle cx="251.68" cy="392.95" r="4.0"/><circle cx="254.84" cy="380.64" r="4.0"/><circle cx="258.01" cy="230.6" r="4.0"/><circle cx="261.18" cy="268.26" r="4.0"/><circle cx="264.34" cy="239.6" r="4.0"/><circle cx="267.51" cy="194.59" r="4.0"/><circle cx="270.68" cy="240.8" r="4.0"/><circle cx="273.85" cy="337.73" r="4.0"/><circle cx="277.01" cy="327.53" r="4.0"/><circle cx="280.18" cy="307.72" r="4.0"/><circle cx="283.35" cy="377.64" r="4.0"/><circle cx="286.51" cy="378.39" r="4.0"/><circle cx="289.68" cy="236.45" r="4.0"/><circle cx="292.85" cy="339.98" r="4.0"/><circle cx="296.01" cy="311.47" r="4.0"/><circle cx="299.18" cy="309.82" r="4.0"/><circle cx="302.35" cy="328.13" r="4.0"/><circle cx="305.52" cy="304.72" r="4.0"/><circle cx="308.68" cy="392.95" r="4.0"/><circle cx="311.85" cy="373.14" r="4.0"/><circle cx="315.02" cy="382.29" r="4.0"/><circle cx="318.18" cy="381.39" r="4.0"/><circle cx="321.35" cy="351.38" r="4.0"/><circle cx="324.52" cy="351.38" r="4.0"/><circle cx="327.69" cy="292.42" r="4.0"/><circle cx="330.85" cy="319.88" r="4.0"/><circle cx="334.02" cy="297.07" r="4.0"/><circle cx="337.19" cy="302.62" r="4.0"/><circle cx="340.35" cy="294.97" r="4.0"/><circle cx="343.52" cy="366.99" r="4.0"/><circle cx="346.69" cy="366.24" r="4.0"/><circle cx="349.85" cy="336.98" r="4.0"/><circle cx="353.02" cy="296.32" r="4.0"/><circle cx="356.19" cy="386.49" r="4.0"/><circle cx="359.36" cy="378.69" r="4.0"/><circle cx="362.52" cy="380.19" r="4.0"/><circle cx="365.69" cy="383.19" r="4.0"/><circle cx="368.86" cy="302.62" r="4.0"/><circle cx="372.02" cy="302.17" r="4.0"/><circle cx="375.19" cy="263.16" r="4.0"/><circle cx="378.36" cy="309.07" r="4.0"/><circle cx="381.52" cy="337.43" r="4.0"/><circle cx="384.69" cy="336.23" r="4.0"/><circle cx="387.86" cy="397.6" r="4.0"/><circle cx="391.02" cy="303.22" r="4.0"/><circle cx="394.19" cy="307.72" r="4.0"/><circle cx="397.36" cy="376.29" r="4.0"/><circle cx="400.53" cy="302.02" r="4.0"/><circle cx="403.69" cy="383.94" r="4.0"/><circle cx="406.86" cy="375.69" r="4.0"/><circle cx="410.03" cy="384.54" r="4.0"/><circle cx="413.19" cy="390.09" r="4.0"/><circle cx="416.36" cy="398.2" r="4.0"/><circle cx="419.53" cy="334.73" r="4.0"/><circle cx="422.69" cy="339.83" r="4.0"/><circle cx="425.86" cy="374.04" r="4.0"/><circle cx="429.03" cy="288.22" r="4.0"/><circle cx="432.2" cy="260.01" r="4.0"/><circle cx="435.36" cy="364.59" r="4.0"/><circle cx="438.53" cy="263.16" r="4.0"/><circle cx="441.7" cy="299.77" r="4.0"/><circle cx="444.86" cy="333.08" r="4.0"/><circle cx="448.03" cy="372.84" r="4.0"/><circle cx="451.2" cy="360.69" r="4.0"/><circle cx="454.37" cy="366.84" r="4.0"/><circle cx="457.53" cy="320.63" r="4.0"/><circle cx="460.7" cy="333.08" r="4.0"/><circle cx="463.87" cy="334.13" r="4.0"/><circle cx="467.03" cy="298.87" r="4.0"/><circle cx="470.2" cy="380.79" r="4.0"/><circle cx="473.37" cy="311.17" r="4.0"/><circle cx="476.53" cy="395.8" r="4.0"/><circle cx="479.7" cy="371.34" r="4.0"/><circle cx="482.87" cy="380.79" r="4.0"/><circle cx="486.03" cy="301.87" r="4.0"/><circle cx="489.2" cy="231.95" r="4.0"/><circle cx="492.37" cy="396.7" r="4.0"/><circle cx="495.54" cy="378.09" r="4.0"/><circle cx="498.7" cy="216.65" r="4.0"/><circle cx="501.87" cy="389.64" r="4.0"/><circle cx="505.04" cy="225.8" r="4.0"/><circle cx="508.2" cy="357.84" r="4.0"/><circle cx="511.37" cy="269.31" r="4.0"/><circle cx="514.54" cy="315.82" r="4.0"/><circle cx="517.7" cy="297.37" r="4.0"/><circle cx="520.87" cy="252.66" r="4.0"/><circle cx="524.04" cy="306.52" r="4.0"/><circle cx="527.21" cy="330.38" r="4.0"/><circle cx="530.37" cy="374.64" r="4.0"/><circle cx="533.54" cy="221.3" r="4.0"/><circle cx="536.71" cy="290.02" r="4.0"/></g>
<path d="M61.2 35.1H536.5V410.2H61.2ZM121.83 410.2v-4.8M121.83 35.1v4.8M185.17 410.2v-4.8M185.17 35.1v4.8M248.51 410.2v-4.8M248.51 35.1v4.8M311.85 410.2v-4.8M311.85 35.1v4.8M375.19 410.2v-4.8M375.19 35.1v4.8M438.53 410.2v-4.8M438.53 35.1v4.8M501.87 410.2v-4.8M501.87 35.1v4.8M61.2 335.18h4.8M536.5 335.18h-4.8M61.2 260.16h4.8M536.5 260.16h-4.8M61.2 185.14h4.8M536.5 185.14h-4.8M61.2 110.12h4.8M536.5 110.12h-4.8" stroke="#262626" stroke-width="1" fill="none"/>
<g font-family="'Liberation Sans', Arial, Helvetica, sans-serif" font-size="10.05" fill="#262626" stroke="#262626" stroke-width="0.25">
<text x="119.53" y="423.8" text-anchor="middle">20</text>
<text x="182.87" y="423.8" text-anchor="middle">40</text>
<text x="246.21" y="423.8" text-anchor="middle">60</text>
<text x="309.55" y="423.8" text-anchor="middle">80</text>
<text x="371.89" y="423.8" text-anchor="middle">100</text>
<text x="435.23" y="423.8" text-anchor="middle">120</text>
<text x="498.57" y="423.8" text-anchor="middle">140</text>
<text x="49.2" y="410.2" text-anchor="end">0</text>
<text x="49.2" y="335.18" text-anchor="end">50</text>
<text x="49.2" y="260.16" text-anchor="end">100</text>
<text x="49.2" y="185.14" text-anchor="end">150</text>
<text x="49.2" y="110.12" text-anchor="end">200</text>
<text x="49.2" y="35.1" text-anchor="end">250</text>
</g>
<text font-family="'Liberation Sans', Arial, Helvetica, sans-serif" font-size="12.33" fill="#000" stroke="#000" stroke-width="0.25" x="267.6" y="21.8" text-anchor="middle">Comparison of all data predictions</text>
<text font-family="'Liberation Sans', Arial, Helvetica, sans-serif" font-size="12.25" fill="#262626" stroke="#262626" stroke-width="0.25" x="279.7" y="447.1" text-anchor="middle">Sample of prediction</text>
<text font-family="'Liberation Sans', Arial, Helvetica, sans-serif" font-size="12.25" fill="#262626" stroke="#262626" stroke-width="0.25" transform="translate(16.0,238.51) rotate(-90) scale(1,0.89)" text-anchor="middle">Prediction results</text>
<rect x="435.5" y="49.3" width="87.2" height="37.9" fill="#fff" stroke="#262626" stroke-width="1"/>
<path d="M440.3 59.7H472.9" stroke="#ff0000" stroke-width="1.75"/>
<path d="M452 59.7H462M457 54.7V64.7M453.2 55.9L460.8 63.5M453.2 63.5L460.8 55.9" stroke="#ff0000" stroke-width="1.8" fill="none"/>
<path d="M440.3 77H472.9" stroke="#0000ff" stroke-width="1.75"/>
<circle cx="457" cy="77" r="4.0" fill="none" stroke="#0000ff" stroke-width="1.8"/>
<text font-family="'Liberation Sans', Arial, Helvetica, sans-serif" font-size="9.6" fill="#000" stroke="#000" stroke-width="0.2" x="476.7" y="59.8">Real</text>
<text font-family="'Liberation Sans', Arial, Helvetica, sans-serif" font-size="9.6" fill="#000" stroke="#000" stroke-width="0.2" x="476.7" y="77">Predict</text>
</g>
<text font-family="'Liberation Serif', 'Times New Roman', serif" font-size="19.8" fill="#000" x="260" y="935.4" letter-spacing="0.68">(<tspan font-weight="bold">c</tspan>) All data</text>
</svg>
</body>
</html>
